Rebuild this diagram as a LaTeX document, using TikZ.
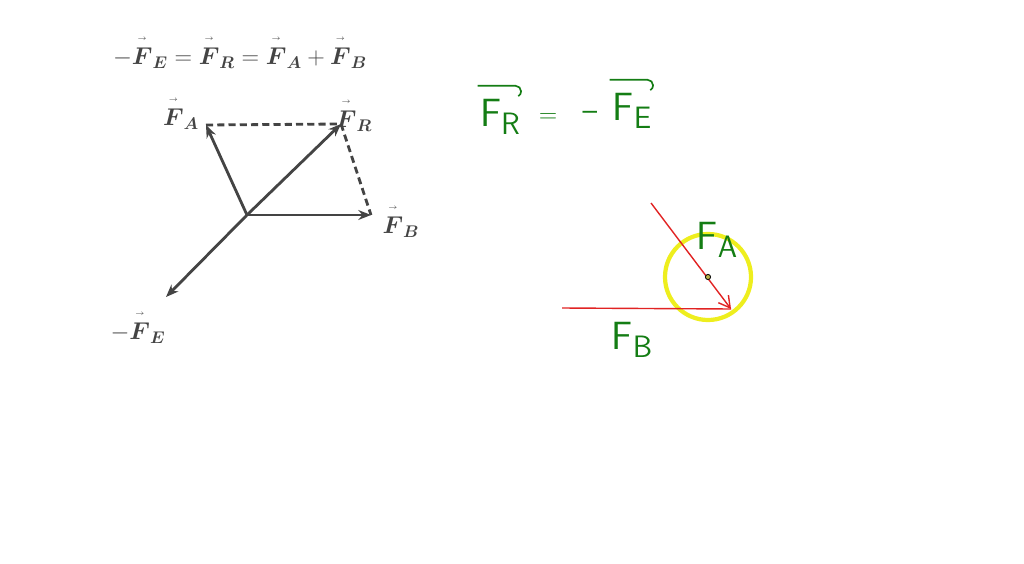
\documentclass[tikz,border=0pt]{standalone}
\usepackage{amsmath}
\usepackage{tikz}
\usepackage{bm}
\usetikzlibrary{positioning}
\usetikzlibrary{arrows.meta}

\definecolor{vecgray}{RGB}{68,68,68}
\definecolor{penred}{RGB}{225,35,35}
\definecolor{pengreen}{RGB}{20,125,20}
\definecolor{ringyellow}{RGB}{238,238,30}

% printed vector with a tiny arrow high above it
\newcommand{\vF}{\overset{\raisebox{2pt}{\tiny$\rightarrow$}}{\bm{F}}}

\tikzset{
    force/.style = {-{Stealth[length=9pt,width=7pt]}, line width=2pt, draw=vecgray},
    helper/.style = {dashed, dash pattern=on 5pt off 3pt, line width=2pt, draw=vecgray},
    lbl/.style = {text=vecgray, font=\fontsize{17}{20}\selectfont},
    hand/.style = {text=pengreen, font=\fontsize{28}{30}\sffamily},
    redline/.style = {draw=penred, line width=1pt},
    hook/.style = {draw=pengreen, line width=1.2pt},
}

\begin{document}
\begin{tikzpicture}[x=0.025cm, y=-0.025cm]
    \useasboundingbox (0,0) rectangle (1024,564);

    % printed diagram
    \node[lbl] (eq) at (240,52) {$-\vF_{\bm E}=\vF_{\bm R}=\vF_{\bm A}+\vF_{\bm B}$};
    \coordinate (O) at (247,215);
    \coordinate (A) at (206,125);
    \coordinate (R) at (341,124);
    \coordinate (B) at (371,215);
    \coordinate (E) at (166,297);
    \draw[helper] (A) -- (R);
    \draw[helper] (R) -- (B);
    \draw[force] (O) -- (A);
    \draw[force] (O) -- (R);
    \draw[force] (O) -- (B);
    \draw[force] (O) -- (E);
    \node[lbl] (FA) at (181,113) {$\vF_{\bm A}$};
    \node[lbl] (FR) at (354,115) {$\vF_{\bm R}$};
    \node[lbl] (FB) at (401,221) {$\vF_{\bm B}$};
    \node[lbl] (FE) at (138,327) {$-\vF_{\bm E}$};

    % handwritten note
    \node[hand] (hR) at (500,117) {F\raisebox{-6pt}{\fontsize{22}{24}\selectfont R}};
    \node[hand, font=\fontsize{18}{20}\sffamily] (heq) at (548,118) {=};
    \node[hand, font=\fontsize{22}{24}\sffamily] (hminus) at (590,116) {\textendash};
    \node[hand] (hE) at (632,111) {F\raisebox{-6pt}{\fontsize{22}{24}\selectfont E}};
    \draw[hook] ([xshift=-16pt,yshift=6pt]hR.north) -- ([xshift=11pt,yshift=6pt]hR.north)
        arc[start angle=90, end angle=-60, radius=4pt];
    \draw[hook] ([xshift=-16pt,yshift=6pt]hE.north) -- ([xshift=11pt,yshift=6pt]hE.north)
        arc[start angle=90, end angle=-60, radius=4pt];

    % sketch on the right
    \node[circle, draw=ringyellow, line width=3pt, minimum size=2.15cm] (ring) at (708,277) {};
    \coordinate (top) at (651,203);
    \coordinate (tip) at (731,309);
    \coordinate (left) at (562,308);
    \draw[redline, -{Straight Barb[length=8pt,width=9pt]}] (top) -- (tip);
    \draw[redline] (left) -- (tip);
    \node[circle, draw=black, fill=olive!60, inner sep=1.3pt, line width=0.6pt] (dot) at (708,277) {};
    \node[hand] (hA) at (717,240) {F\raisebox{-6pt}{\fontsize{22}{24}\selectfont A}};
    \node[hand] (hB) at (632,340) {F\raisebox{-6pt}{\fontsize{22}{24}\selectfont B}};
\end{tikzpicture}
\end{document}
